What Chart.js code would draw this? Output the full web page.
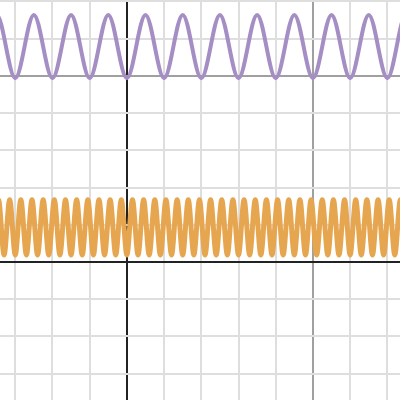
<!DOCTYPE html>
<html><head><script src="https://cdn.jsdelivr.net/npm/chart.js@4"></script>
<style>html,body{margin:0;padding:0;background:#fff}</style></head>
<body><canvas id="c" width="400" height="400"></canvas>
<script>
// Extrema (x in units, y in units)
const purpleX = [-4,-3.5,-3,-2.5,-2,-1.5,-1,-0.5,0,0.5,1,1.5,2,2.5,3,3.5,4,4.5,5,5.5,6,6.5,7,7.5,8];
const purpleY = [4.94,6.64,4.94,6.64,4.94,6.64,4.94,6.64,4.94,6.64,4.94,6.64,4.94,6.64,4.94,6.64,4.94,6.64,4.94,6.64,4.94,6.64,4.94,6.64,4.94];
const orangeX = [-3.6,-3.45,-3.3,-3.15,-3.0,-2.85,-2.7,-2.55,-2.4,-2.25,-2.1,-1.95,-1.8,-1.65,-1.5,-1.35,-1.2,-1.05,-0.9,-0.75,-0.6,-0.45,-0.3,-0.15,0,
0.15,0.3,0.45,0.6,0.75,0.9,1.05,1.2,1.35,1.5,1.65,1.8,1.95,2.1,2.25,2.4,2.55,2.7,2.85,3.0,3.15,3.3,3.45,3.6,3.75,3.9,4.05,4.2,4.35,4.5,
4.65,4.8,4.95,5.1,5.25,5.4,5.55,5.7,5.85,6.0,6.15,6.3,6.45,6.6,6.75,6.9,7.05,7.2,7.35,7.5];
const orangeY = [0.19,1.67,0.19,1.67,0.19,1.67,0.19,1.67,0.19,1.67,0.19,1.67,0.19,1.67,0.19,1.67,0.19,1.67,0.19,1.67,0.19,1.67,0.19,1.67,0.19,
1.67,0.19,1.67,0.19,1.67,0.19,1.67,0.19,1.67,0.19,1.67,0.19,1.67,0.19,1.67,0.19,1.67,0.19,1.67,0.19,1.67,0.19,1.67,0.19,1.67,0.19,1.67,0.19,1.67,0.19,
1.67,0.19,1.67,0.19,1.67,0.19,1.67,0.19,1.67,0.19,1.67,0.19,1.67,0.19,1.67,0.19,1.67,0.19,1.67,0.19];
const xTicks = [-3,-2,-1,0,1,2,3,4,5,6,7];
const yTicks = [-3,-2,-1,0,1,2,3,4,5,6,7];

const pts = (xs, ys) => xs.map((x, i) => ({x, y: ys[i]}));
function gridColor(ctx){ const v = ctx.tick && ctx.tick.value; return v === 0 ? '#222' : (v % 5 === 0 ? '#a0a0a0' : '#dedede'); }
function gridWidth(ctx){ const v = ctx.tick && ctx.tick.value; return v === 0 ? 2 : 2; }
function axis(min, max, ticks){
  return {type:'linear', min, max,
    afterBuildTicks: s => { s.ticks = ticks.map(v => ({value: v})); },
    ticks:{display:false}, border:{display:false},
    grid:{color:gridColor, lineWidth:gridWidth, drawTicks:false}};
}
new Chart(document.getElementById('c'), {
  type:'line',
  data:{datasets:[
    {data:pts(orangeX, orangeY), borderColor:'#e6a54f', borderWidth:5, pointRadius:0, cubicInterpolationMode:'monotone', fill:false},
    {data:pts(purpleX, purpleY), borderColor:'#a48ec4', borderWidth:4, pointRadius:0, cubicInterpolationMode:'monotone', fill:false}
  ]},
  options:{responsive:false, animation:false, layout:{padding:0},
    plugins:{legend:{display:false}, tooltip:{enabled:false}},
    scales:{x:axis(-3.41, 7.34, xTicks), y:axis(-3.71, 7.04, yTicks)}}
});
</script></body></html>
